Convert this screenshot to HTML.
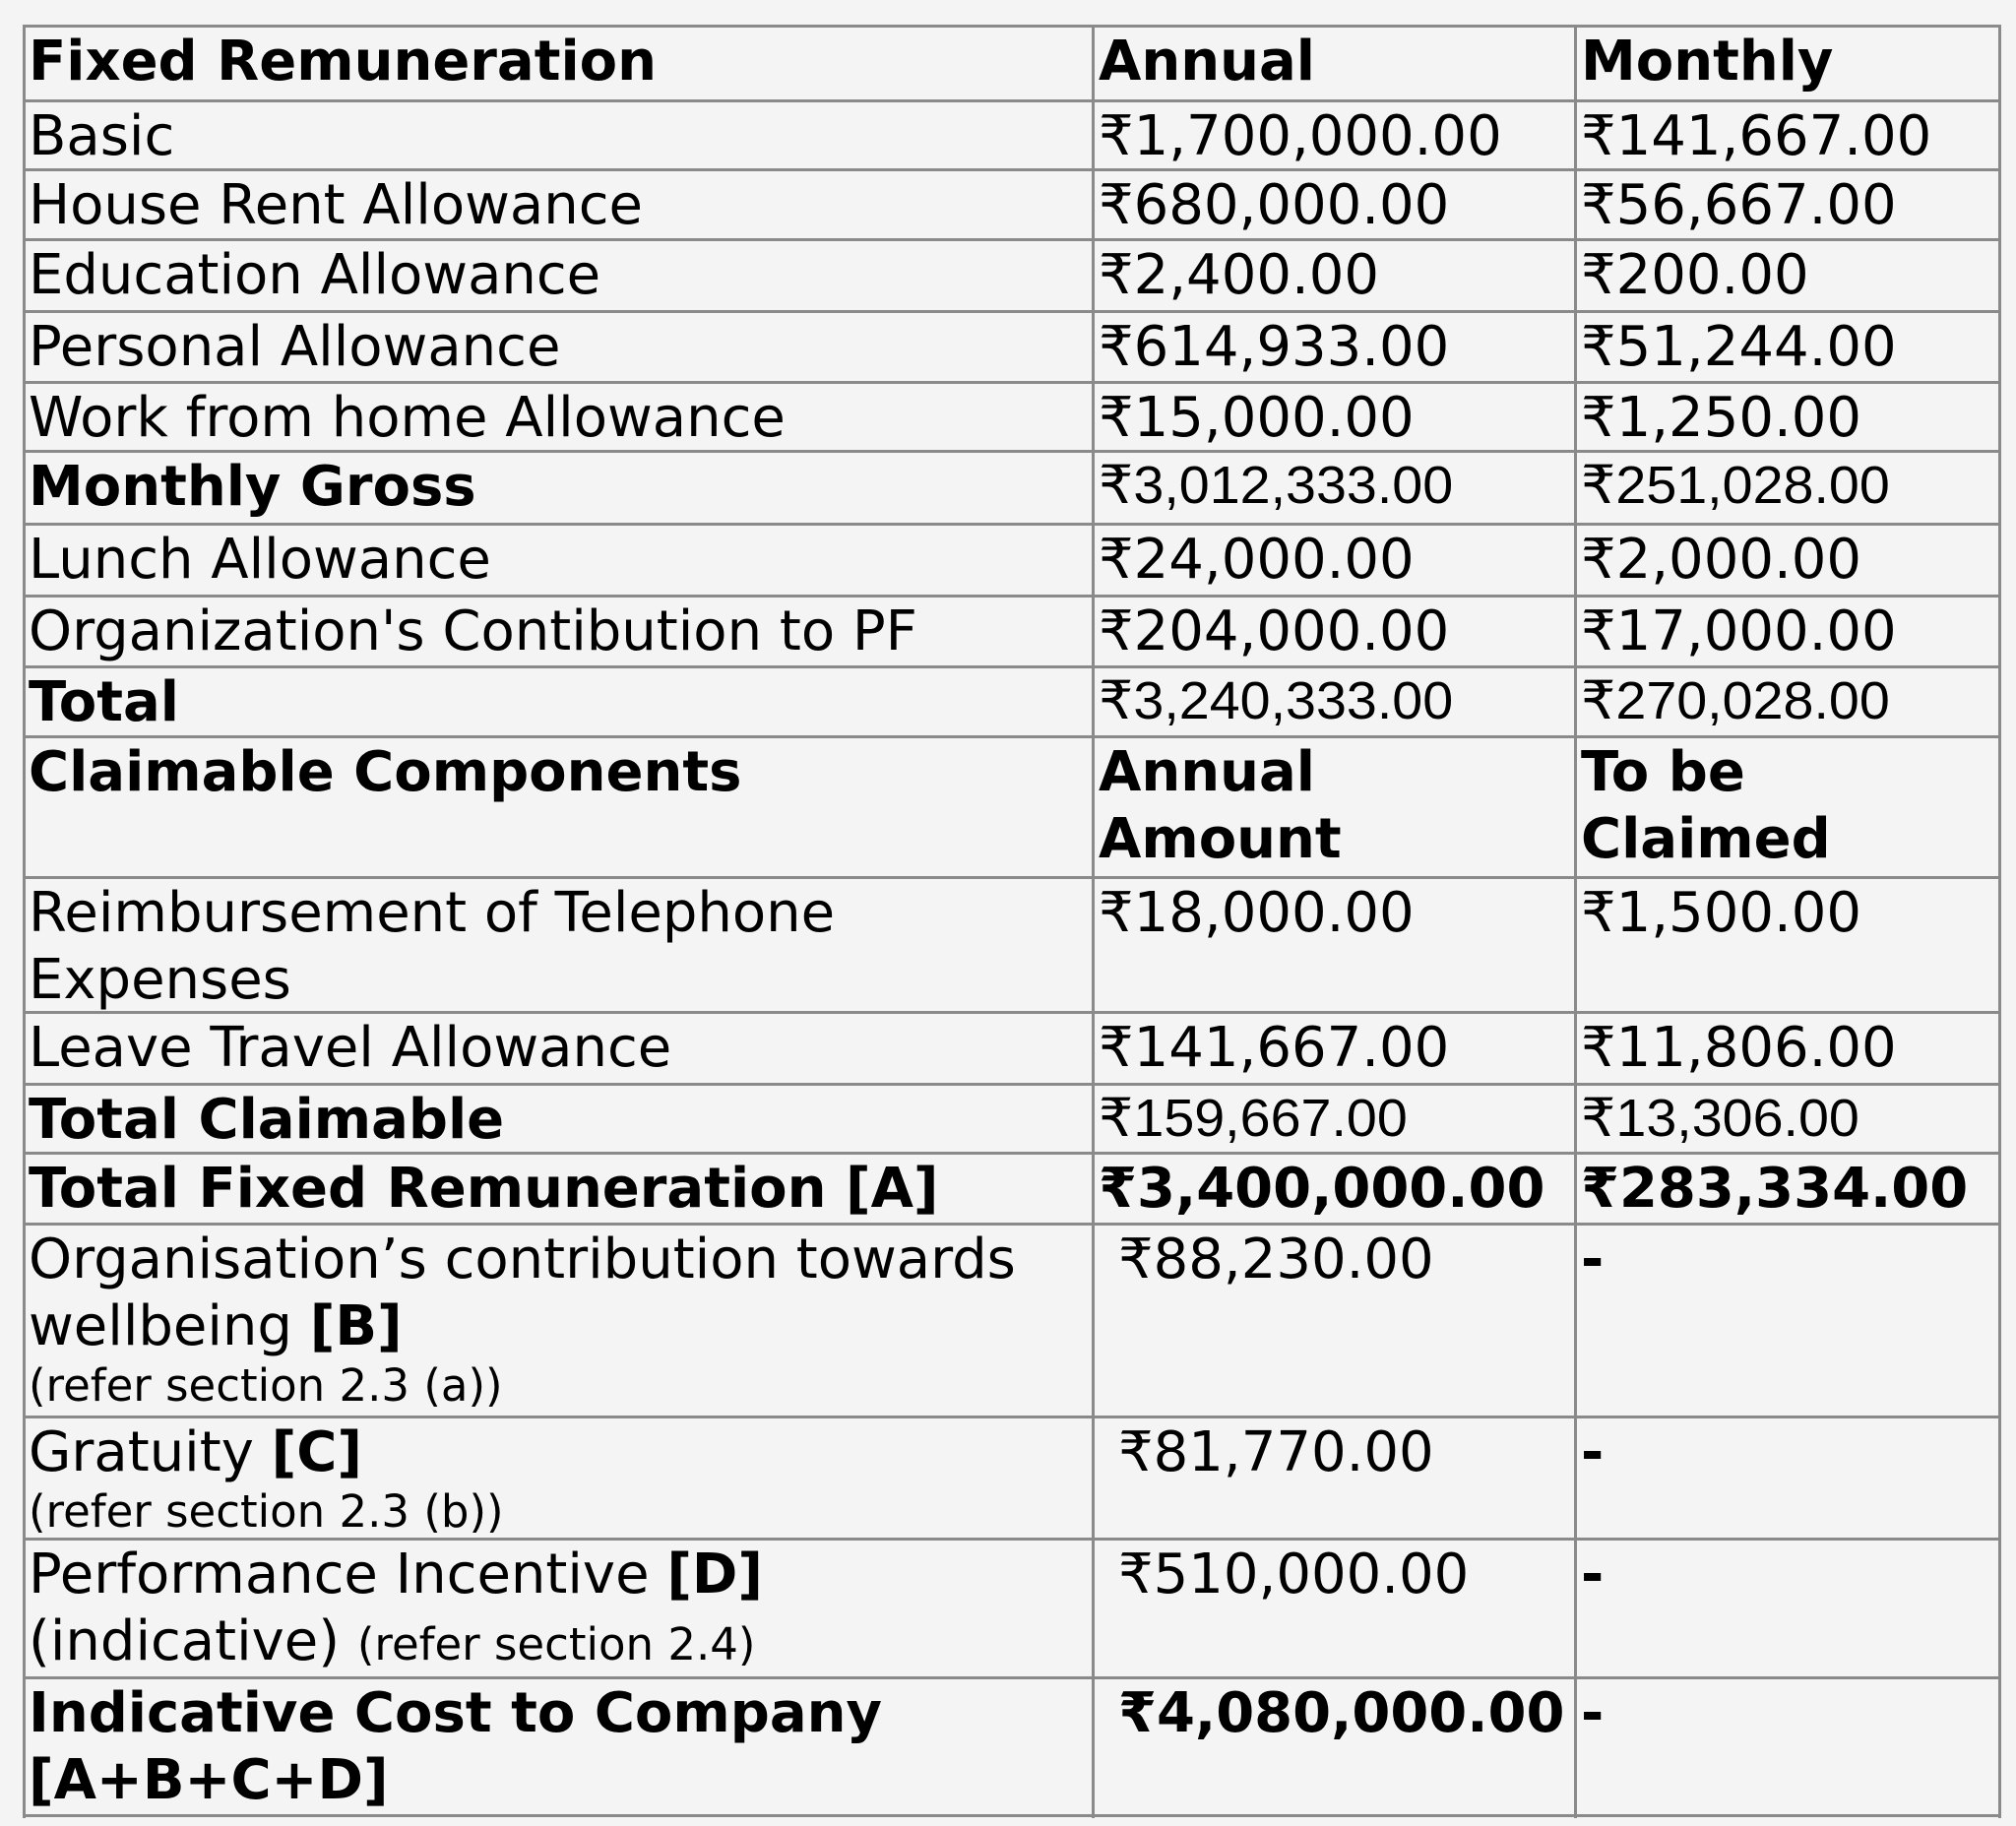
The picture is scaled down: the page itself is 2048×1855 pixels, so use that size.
<!DOCTYPE html>
<html><head><meta charset="utf-8"><style>
html,body{margin:0;padding:0;background:#f4f4f4;}
body{width:2048px;height:1855px;position:relative;overflow:hidden;font-family:"DejaVu Sans","Liberation Sans",sans-serif;color:#000;}
.h{position:absolute;left:23px;width:2010px;height:3px;background:#8a8a8a;}
.v{position:absolute;top:26px;height:1821px;width:3px;background:#8a8a8a;}
.t{position:absolute;font-size:56px;line-height:68px;white-space:nowrap;transform-origin:0 0;transform:scaleX(1.0);}
.b{font-weight:bold;}
.n{font-family:"Liberation Sans","DejaVu Sans",sans-serif;font-size:54px;transform:scaleX(1.03);}
.s{font-family:"DejaVu Sans","Liberation Sans",sans-serif;font-size:45px;font-weight:normal;}
.sl{display:inline-block;line-height:52px;vertical-align:top;}
</style></head><body>
<div class="h" style="top:25px"></div>
<div class="h" style="top:101px"></div>
<div class="h" style="top:171px"></div>
<div class="h" style="top:242px"></div>
<div class="h" style="top:315px"></div>
<div class="h" style="top:387px"></div>
<div class="h" style="top:457px"></div>
<div class="h" style="top:531px"></div>
<div class="h" style="top:604px"></div>
<div class="h" style="top:676px"></div>
<div class="h" style="top:747px"></div>
<div class="h" style="top:890px"></div>
<div class="h" style="top:1027px"></div>
<div class="h" style="top:1100px"></div>
<div class="h" style="top:1170px"></div>
<div class="h" style="top:1242px"></div>
<div class="h" style="top:1438px"></div>
<div class="h" style="top:1562px"></div>
<div class="h" style="top:1703px"></div>
<div class="h" style="top:1843px"></div>
<div class="v" style="left:23px"></div>
<div class="v" style="left:1109px"></div>
<div class="v" style="left:1599px"></div>
<div class="v" style="left:2030px"></div>

<div class="t b" style="left:29px;top:29px">Fixed Remuneration</div>
<div class="t b" style="left:1116px;top:29px">Annual</div>
<div class="t b" style="left:1606px;top:29px">Monthly</div>

<div class="t" style="left:29px;top:105px">Basic</div>
<div class="t" style="left:1116px;top:105px">₹1,700,000.00</div>
<div class="t" style="left:1606px;top:105px">₹141,667.00</div>

<div class="t" style="left:29px;top:175px">House Rent Allowance</div>
<div class="t" style="left:1116px;top:175px">₹680,000.00</div>
<div class="t" style="left:1606px;top:175px">₹56,667.00</div>

<div class="t" style="left:29px;top:246px">Education Allowance</div>
<div class="t" style="left:1116px;top:246px">₹2,400.00</div>
<div class="t" style="left:1606px;top:246px">₹200.00</div>

<div class="t" style="left:29px;top:319px">Personal Allowance</div>
<div class="t" style="left:1116px;top:319px">₹614,933.00</div>
<div class="t" style="left:1606px;top:319px">₹51,244.00</div>

<div class="t" style="left:29px;top:391px">Work from home Allowance</div>
<div class="t" style="left:1116px;top:391px">₹15,000.00</div>
<div class="t" style="left:1606px;top:391px">₹1,250.00</div>

<div class="t b" style="left:29px;top:461px">Monthly Gross</div>
<div class="t n" style="left:1116px;top:459px">₹3,012,333.00</div>
<div class="t n" style="left:1606px;top:459px">₹251,028.00</div>

<div class="t" style="left:29px;top:535px">Lunch Allowance</div>
<div class="t" style="left:1116px;top:535px">₹24,000.00</div>
<div class="t" style="left:1606px;top:535px">₹2,000.00</div>

<div class="t" style="left:29px;top:608px">Organization's Contibution to PF</div>
<div class="t" style="left:1116px;top:608px">₹204,000.00</div>
<div class="t" style="left:1606px;top:608px">₹17,000.00</div>

<div class="t b" style="left:29px;top:680px">Total</div>
<div class="t n" style="left:1116px;top:678px">₹3,240,333.00</div>
<div class="t n" style="left:1606px;top:678px">₹270,028.00</div>

<div class="t b" style="left:29px;top:751px">Claimable Components</div>
<div class="t b" style="left:1116px;top:751px">Annual<br>Amount</div>
<div class="t b" style="left:1606px;top:751px">To be<br>Claimed</div>

<div class="t" style="left:29px;top:894px">Reimbursement of Telephone<br>Expenses</div>
<div class="t" style="left:1116px;top:894px">₹18,000.00</div>
<div class="t" style="left:1606px;top:894px">₹1,500.00</div>

<div class="t" style="left:29px;top:1031px">Leave Travel Allowance</div>
<div class="t" style="left:1116px;top:1031px">₹141,667.00</div>
<div class="t" style="left:1606px;top:1031px">₹11,806.00</div>

<div class="t b" style="left:29px;top:1104px">Total Claimable</div>
<div class="t n" style="left:1116px;top:1102px">₹159,667.00</div>
<div class="t n" style="left:1606px;top:1102px">₹13,306.00</div>

<div class="t b" style="left:29px;top:1174px">Total Fixed Remuneration [A]</div>
<div class="t b" style="left:1116px;top:1174px">₹3,400,000.00</div>
<div class="t b" style="left:1606px;top:1174px">₹283,334.00</div>

<div class="t" style="left:29px;top:1246px">Organisation’s contribution towards<br>wellbeing <b>[B]</b><br><span class="s sl">(refer section 2.3 (a))</span></div>
<div class="t" style="left:1136px;top:1246px">₹88,230.00</div>
<div class="t b" style="left:1606px;top:1246px">-</div>

<div class="t" style="left:29px;top:1442px">Gratuity <b>[C]</b><br><span class="s sl">(refer section 2.3 (b))</span></div>
<div class="t" style="left:1136px;top:1442px">₹81,770.00</div>
<div class="t b" style="left:1606px;top:1442px">-</div>

<div class="t" style="left:29px;top:1566px">Performance Incentive <b>[D]</b><br>(indicative) <span class="s">(refer section 2.4)</span></div>
<div class="t" style="left:1136px;top:1566px">₹510,000.00</div>
<div class="t b" style="left:1606px;top:1566px">-</div>

<div class="t b" style="left:29px;top:1707px">Indicative Cost to Company<br>[A+B+C+D]</div>
<div class="t b" style="left:1136px;top:1707px">₹4,080,000.00</div>
<div class="t b" style="left:1606px;top:1707px">-</div>
</body></html>
